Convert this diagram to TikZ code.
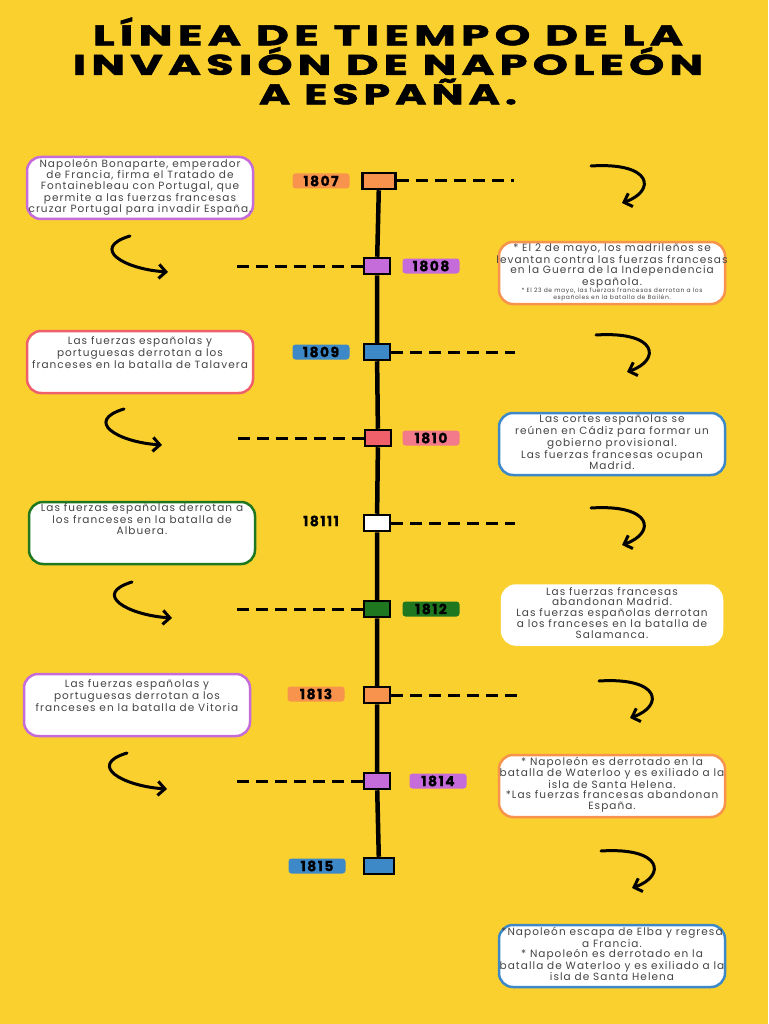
\documentclass[tikz,border=0pt]{standalone}
\usepackage{graphicx}
\usepackage{fontspec}
\setmainfont{Poppins}[LetterSpace=10]
\newfontfamily\titlefont{Poppins}[LetterSpace=12, FakeBold=1.8]
\newfontfamily\tagfont{Poppins}[LetterSpace=10, FakeBold=0.6]
\usepackage{tikz}
\usetikzlibrary{positioning, arrows.meta}

\definecolor{bgyellow}{HTML}{FAD02E}
\definecolor{cOrange}{HTML}{F7934C}
\definecolor{cViolet}{HTML}{C66BDA}
\definecolor{cBlue}{HTML}{3D89C8}
\definecolor{cRed}{HTML}{F0606B}
\definecolor{cPink}{HTML}{F27A8A}
\definecolor{cGreen}{HTML}{1F771F}
\definecolor{txtgray}{HTML}{444444}

\newcommand{\tinyline}[1]{{\fontsize{6}{6.5}\selectfont #1}}
\newcommand{\titleline}[2]{\resizebox{#1}{\height}{#2}}

\begin{document}
\begin{tikzpicture}[x=1pt, y=-1pt,
		yearbox/.style={draw=black, line width=2.5pt, minimum width=26pt, minimum height=16pt, inner sep=0pt},
		tag/.style={rounded corners=3pt, minimum width=57pt, minimum height=15pt, inner sep=0pt, font=\tagfont\bfseries\fontsize{14}{14}\selectfont},
		card/.style={draw=#1, line width=2.5pt, rounded corners=14pt, fill=white, minimum width=226pt, minimum height=62pt},
		cardtext/.style={anchor=north, yshift=-3pt, inner sep=0pt, align=center, text=txtgray, font=\fontsize{10.5}{10.3}\selectfont},
		dashline/.style={line width=3pt, dash pattern=on 12pt off 7pt},
		timeline/.style={line width=4.5pt},
		hook/.style={line width=3pt, line cap=round, -{Straight Barb[length=7pt, width=14pt, line width=3pt]}}]

		\useasboundingbox (0,0) rectangle (768,1024);
		\fill[bgyellow] (0,0) rectangle (768,1024);

		% Title
		\node[align=center, inner sep=0pt, font=\titlefont\bfseries\fontsize{28.5}{29.5}\selectfont] (title) at (388,61)
			{\titleline{590pt}{LÍNEA DE TIEMPO DE LA}\\\titleline{630pt}{INVASIÓN DE NAPOLEÓN}\\\titleline{258pt}{A ESPAÑA.}};

		% Markers
		\node[yearbox, fill=cOrange, minimum width=33pt] (m1807) at (379,181) {};
		\node[yearbox, fill=cViolet] (m1808) at (377,266) {};
		\node[yearbox, fill=cBlue] (m1809) at (377,352) {};
		\node[yearbox, fill=cRed] (m1810) at (378,438) {};
		\node[yearbox, fill=white] (m1811) at (377,523) {};
		\node[yearbox, fill=cGreen] (m1812) at (377,609) {};
		\node[yearbox, fill=cOrange] (m1813) at (377,695) {};
		\node[yearbox, fill=cViolet] (m1814) at (377,781) {};
		\node[yearbox, fill=cBlue, minimum width=30pt] (m1815) at (379,866) {};

		% Timeline
		\draw[timeline] (m1807) -- (m1808) -- (m1809) -- (m1810) -- (m1811)
			-- (m1812) -- (m1813) -- (m1814) -- (m1815);

		% Year tags
		\node[tag, fill=cOrange] (t1807) at (321,181) {1807};
		\node[tag, fill=cViolet] (t1808) at (431,266) {1808};
		\node[tag, fill=cBlue] (t1809) at (321,352) {1809};
		\node[tag, fill=cPink] (t1810) at (431,438) {1810};
		\node[tag] (t1811) at (321,521) {18111};
		\node[tag, fill=cGreen] (t1812) at (431,609) {1812};
		\node[tag, fill=cOrange] (t1813) at (316,694) {1813};
		\node[tag, fill=cViolet] (t1814) at (438,781) {1814};
		\node[tag, fill=cBlue] (t1815) at (317,866) {1815};

		% Dashed lines
		\coordinate (d1807) at (514,181);
		\coordinate (d1808) at (237,266);
		\coordinate (d1809) at (515,352);
		\coordinate (d1810) at (237,438);
		\coordinate (d1811) at (515,523);
		\coordinate (d1812) at (237,609);
		\coordinate (d1813) at (520,695);
		\coordinate (d1814) at (232,781);
		\draw[dashline] (m1807.east) -- (d1807);
		\draw[dashline] (m1808.west) -- (d1808);
		\draw[dashline] (m1809.east) -- (d1809);
		\draw[dashline] (m1810.west) -- (d1810);
		\draw[dashline] (m1811.east) -- (d1811);
		\draw[dashline] (m1812.west) -- (d1812);
		\draw[dashline] (m1813.east) -- (d1813);
		\draw[dashline] (m1814.west) -- (d1814);

		% Curved arrows, right side
		\draw[hook] (591,166) .. controls +(62,-4) and +(34,-12) .. ++(31,37);
		\draw[hook] (596,335) .. controls +(62,-4) and +(34,-12) .. ++(31,37);
		\draw[hook] (591,508) .. controls +(62,-4) and +(34,-12) .. ++(31,37);
		\draw[hook] (599,681) .. controls +(62,-4) and +(34,-12) .. ++(31,37);
		\draw[hook] (601,851) .. controls +(62,-4) and +(34,-12) .. ++(31,37);

		% Curved arrows, left side
		\draw[hook] (130,236) .. controls +(-40,12) and +(-45,-3) .. ++(38,36);
		\draw[hook] (124,409) .. controls +(-40,12) and +(-45,-3) .. ++(38,36);
		\draw[hook] (132,582) .. controls +(-40,12) and +(-45,-3) .. ++(40,36);
		\draw[hook] (127,753) .. controls +(-40,12) and +(-45,-3) .. ++(40,36);

		% Event cards
		\node[card=cViolet] (b1807) at (140,188) {};
		\node[cardtext] (x1807) at (b1807.north) {Napoleón Bonaparte, emperador\\de Francia, firma el Tratado de\\Fontainebleau con Portugal, que\\permite a las fuerzas francesas\\cruzar Portugal para invadir España.};

		\node[card=cOrange] (b1808) at (612,273) {};
		\node[cardtext] (x1808) at (b1808.north) {* El 2 de mayo, los madrileños se\\levantan contra las fuerzas francesas\\en la Guerra de la Independencia\\española.\\[-3pt]
			\tinyline{* El 23 de mayo, las fuerzas francesas derrotan a los}\\[-3.5pt]\tinyline{españoles en la batalla de Bailén.}};

		\node[card=cRed] (b1809) at (140,362) {};
		\node[cardtext, yshift=-4pt] (x1809) at (b1809.north) {Las fuerzas españolas y\\portuguesas derrotan a los\\franceses en la batalla de Talavera};

		\node[card=cBlue] (b1810) at (612,444) {};
		\node[cardtext] (x1810) at (b1810.north) {Las cortes españolas se\\reúnen en Cádiz para formar un\\gobierno provisional.\\Las fuerzas francesas ocupan\\Madrid.};

		\node[card=cGreen] (b1811) at (142,533) {};
		\node[cardtext] (x1811) at (b1811.north) {Las fuerzas españolas derrotan a\\los franceses en la batalla de\\Albuera.};

		\node[card=white, minimum width=220pt, minimum height=59pt] (b1812) at (612,615) {};
		\node[cardtext] (x1812) at (b1812.north) {Las fuerzas francesas\\abandonan Madrid.\\Las fuerzas españolas derrotan\\a los franceses en la batalla de\\Salamanca.};

		\node[card=cViolet] (b1813) at (137,705) {};
		\node[cardtext, yshift=-4pt] (x1813) at (b1813.north) {Las fuerzas españolas y\\portuguesas derrotan a los\\franceses en la batalla de Vitoria};

		\node[card=cOrange] (b1814) at (612,786) {};
		\node[cardtext] (x1814) at (b1814.north) {* Napoleón es derrotado en la\\batalla de Waterloo y es exiliado a la\\isla de Santa Helena.\\*Las fuerzas francesas abandonan\\España.};

		\node[card=cBlue] (b1815) at (612,956) {};
		\node[cardtext] (x1815) at (b1815.north) {*Napoleón escapa de Elba y regresa\\a Francia.\\* Napoleón es derrotado en la\\batalla de Waterloo y es exiliado a la\\isla de Santa Helena};
	\end{tikzpicture}
\end{document}
